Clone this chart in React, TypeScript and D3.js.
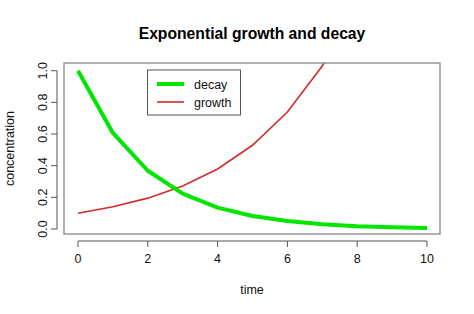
import React from "react";
import * as d3 from "d3";

const times = [0, 1, 2, 3, 4, 5, 6, 7, 8, 9, 10];
const decay = [1, 0.607, 0.368, 0.223, 0.135, 0.082, 0.05, 0.03, 0.018, 0.011, 0.007];
const growth = [0.1, 0.14, 0.195, 0.272, 0.379, 0.529, 0.739, 1.03, 1.44, 2.01, 2.8];
const xTicks = [0, 2, 4, 6, 8, 10];
const yTicks = [0, 0.2, 0.4, 0.6, 0.8, 1.0];
const legendLabels = ["decay", "growth"];

export default function App() {
  const W = 474, H = 314;
  const box = { l: 64, r: 440, t: 63, b: 234 };
  const x = d3.scaleLinear().domain([0, 10]).range([78, 427]);
  const y = d3.scaleLinear().domain([0, 1]).range([229, 70.7]);
  const line = (vals: number[]) =>
    d3.line<number>().x((_, i) => x(times[i])).y((d) => y(d))(vals) || "";
  const font = "Liberation Sans, Arial, sans-serif";
  const axisColor = "#555";
  return (
    <svg width={W} height={H} style={{ position: "absolute", left: 0, top: 0, background: "#fff" }} fontFamily={font}>
      <defs>
        <clipPath id="plotclip">
          <rect x={box.l} y={box.t} width={box.r - box.l} height={box.b - box.t} />
        </clipPath>
      </defs>
      <text x={(box.l + box.r) / 2} y={39} textAnchor="middle" fontSize={15.7} fontWeight="bold" fill="#000">
        Exponential growth and decay
      </text>
      <g clipPath="url(#plotclip)">
        <path d={line(growth)} fill="none" stroke="#d42a2a" strokeWidth={1.6} />
        <path d={line(decay)} fill="none" stroke="#00e600" strokeWidth={4} strokeLinejoin="round" />
      </g>
      <rect x={box.l} y={box.t} width={box.r - box.l} height={box.b - box.t} fill="none" stroke="#888" strokeWidth={1.3} />
      {/* x axis */}
      <line x1={x(0)} x2={x(10)} y1={241} y2={241} stroke={axisColor} strokeWidth={1} />
      {xTicks.map((t) => (
        <g key={t}>
          <line x1={x(t)} x2={x(t)} y1={241} y2={247} stroke={axisColor} />
          <text x={x(t)} y={263} textAnchor="middle" fontSize={12.5} fill="#111">{t}</text>
        </g>
      ))}
      <text x={(box.l + box.r) / 2} y={294} textAnchor="middle" fontSize={12.5} fill="#111">time</text>
      {/* y axis */}
      <line x1={57} x2={57} y1={y(0)} y2={y(1)} stroke={axisColor} />
      {yTicks.map((t) => (
        <g key={t}>
          <line x1={51} x2={57} y1={y(t)} y2={y(t)} stroke={axisColor} />
          <text transform={`translate(46.5,${y(t)}) rotate(-90)`} textAnchor="middle" fontSize={12.5} fill="#111">
            {t.toFixed(1)}
          </text>
        </g>
      ))}
      <text transform={`translate(14,${(box.t + box.b) / 2}) rotate(-90)`} textAnchor="middle" fontSize={12.5} fill="#111">
        concentration
      </text>
      {/* legend */}
      <rect x={147.5} y={70} width={93} height={45} fill="#fff" stroke="#555" strokeWidth={1} />
      <line x1={157} x2={184} y1={84} y2={84} stroke="#00e600" strokeWidth={4} />
      <line x1={157} x2={184} y1={102} y2={102} stroke="#d42a2a" strokeWidth={1.6} />
      {legendLabels.map((l, i) => (
        <text key={l} x={194} y={88.5 + i * 18} fontSize={12.5} fill="#111">{l}</text>
      ))}
    </svg>
  );
}
